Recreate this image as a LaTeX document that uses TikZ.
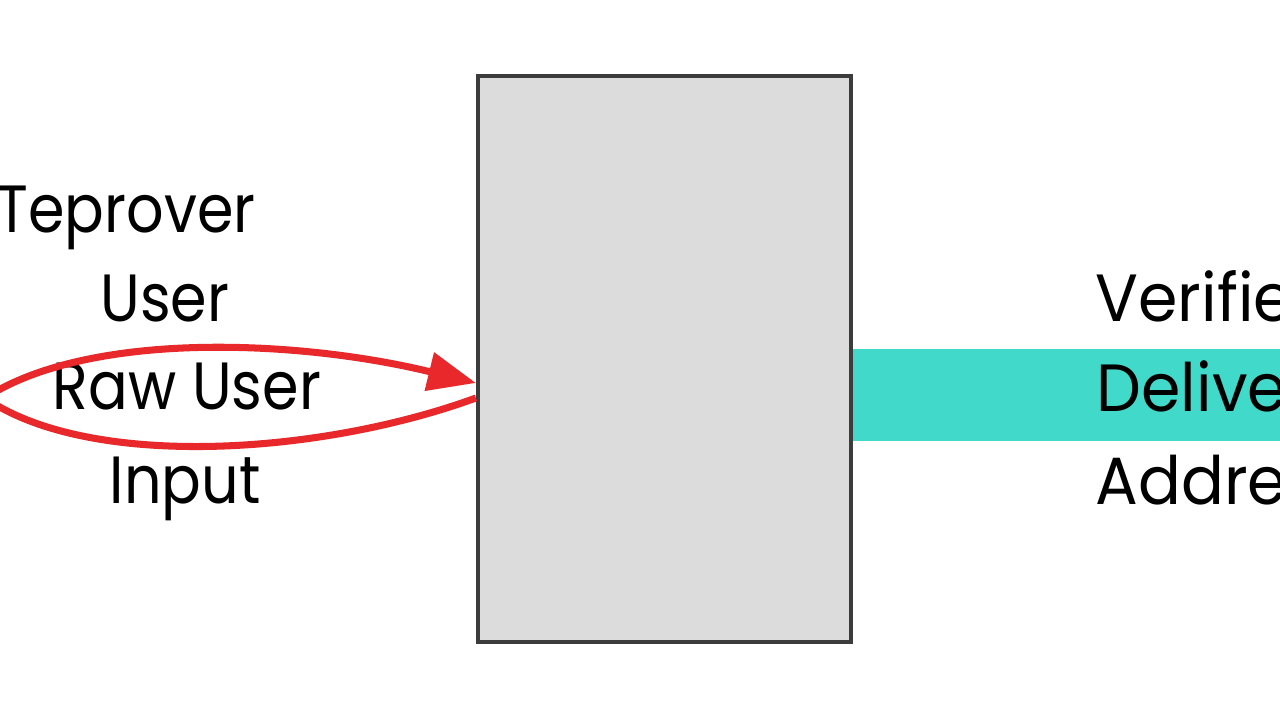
\documentclass[tikz,border=0pt]{standalone}
\usepackage{fontspec}
\setmainfont{Poppins}
\newfontfamily\narrowsans[FakeStretch=0.88]{Poppins}
\newfontfamily\rightsans[FakeStretch=0.95]{Poppins}
\usetikzlibrary{positioning}
\usetikzlibrary{arrows.meta}
\definecolor{boxgray}{HTML}{DCDCDC}
\definecolor{boxline}{HTML}{3C3C3C}
\definecolor{bandteal}{HTML}{41D9CA}
\definecolor{loopred}{HTML}{E8282B}

\begin{document}
\begin{tikzpicture}[
    label/.style={
      % Plain text, no frame
      inner sep=0pt,font=\rightsans\fontsize{19}{22}\selectfont
      },
    leftlabel/.style={label,font=\narrowsans\fontsize{19}{22}\selectfont},
    block/.style={
      % The shape:
      rectangle,inner sep=0pt,minimum width=3.73cm,minimum height=5.66cm,
      % Border
      line width=1.2pt,draw=boxline,fill=boxgray
      },
    loop/.style={line width=2pt,draw=loopred}]
  \useasboundingbox (0,0) rectangle (12.8,7.2);
  \clip (0,0) rectangle (12.8,7.2);
  \node (band) [fill=bandteal,inner sep=0pt,minimum width=4.4cm,minimum height=0.92cm,anchor=west] at (8.51,3.25) {};
  \node (box) [block] at (6.645,3.61) {};
  % left side
  \node (teprover) [leftlabel,anchor=base west] at (-0.04,4.87) {Teprover};
  \node (user) [leftlabel,anchor=base] at (1.65,3.98) {User};
  \node (raw) [leftlabel,anchor=base] at (1.87,3.10) {Raw User};
  \node (input) [leftlabel,anchor=base] at (1.85,2.16) {Input};
  % right side
  \node (verified) [label,anchor=base west] at (10.95,3.98) {Verified};
  \node (delivery) [label,anchor=base west] at (10.96,3.08) {Delivery};
  \node (address) [label,anchor=base west] at (10.95,2.15) {Address};
  \coordinate (tail) at (-0.15,3.22);
  \coordinate (tip) at ([yshift=-2.4mm]box.west);
  \coordinate (back) at ([yshift=-3.9mm]box.west);
  \draw [loop,-{Triangle[length=4.8mm,width=3.8mm]}] (tail) .. controls (0.9,3.9) and (3.0,3.8) .. (tip);
  \draw [loop] (back) .. controls (3.2,2.65) and (0.9,2.5) .. (tail);
\end{tikzpicture}
\end{document}
